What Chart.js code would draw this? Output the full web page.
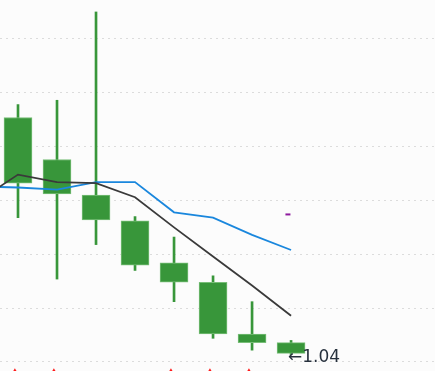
<!DOCTYPE html>
<html>
<head>
<meta charset="utf-8">
<script src="https://cdn.jsdelivr.net/npm/chart.js@4"></script>
<style>
  body { margin: 0; background: #fcfcfc; }
  canvas { display: block; }
</style>
</head>
<body>
<canvas id="myChart" width="435" height="371"></canvas>
<script>
// candle data (one per bar, index 0..7)
const bars = [0, 1, 2, 3, 4, 5, 6, 7];
const opens = [3.27, 2.88, 2.55, 2.31, 1.92, 1.74, 1.26, 1.18];
const highs = [3.39, 3.43, 4.25, 2.35, 2.16, 1.80, 1.56, 1.20];
const lows = [2.34, 1.77, 2.09, 1.85, 1.56, 1.22, 1.11, 1.07];
const closes = [2.66, 2.56, 2.32, 1.90, 1.74, 1.26, 1.18, 1.08];

// moving averages, starting one bar before the first visible candle
const maBars = [-1, 0, 1, 2, 3, 4, 5, 6, 7];
const maBlack = [2.50, 2.74, 2.67, 2.66, 2.53, 2.25, 1.98, 1.71, 1.43];
const maBlue = [2.63, 2.62, 2.60, 2.67, 2.67, 2.39, 2.34, 2.18, 2.04];

// markers
const signalBars = [0, 1, 4, 5, 6];
const signalValue = 0.905;
const stopBar = 6.92;
const stopValue = 2.37;
const lastPrice = 1.04;

const gridValues = [1, 1.5, 2, 2.5, 3, 3.5, 4];

const priceLabel = {
  id: 'priceLabel',
  afterDatasetsDraw(chart) {
    const ctx = chart.ctx;
    const x = chart.scales.x.getPixelForValue(bars[bars.length - 1]) - 3;
    const y = chart.scales.y.getPixelForValue(lastPrice);
    ctx.save();
    ctx.font = '17px "DejaVu Sans", sans-serif';
    ctx.fillStyle = '#27313d';
    ctx.textAlign = 'left';
    ctx.textBaseline = 'middle';
    ctx.fillText('\u2190' + lastPrice.toFixed(2), x, y);
    ctx.restore();
  }
};

var ctx = document.getElementById('myChart').getContext('2d');

var myChart = new Chart(ctx, {
  type: 'bar',
  data: {
    datasets: [
      {
        type: 'line',
        data: maBars.map((b, i) => ({ x: b, y: maBlack[i] })),
        borderColor: '#3a3a3a',
        borderWidth: 1.8,
        pointRadius: 0,
        tension: 0,
        order: 0
      },
      {
        type: 'line',
        data: maBars.map((b, i) => ({ x: b, y: maBlue[i] })),
        borderColor: '#1a87dd',
        borderWidth: 1.8,
        pointRadius: 0,
        tension: 0,
        order: 0
      },
      {
        type: 'scatter',
        data: [{ x: stopBar, y: stopValue }],
        pointStyle: 'line',
        pointRadius: 2.5,
        borderColor: '#8e1a9e',
        borderWidth: 2,
        order: 0
      },
      {
        type: 'scatter',
        data: signalBars.map(b => ({ x: b - 0.08, y: signalValue })),
        pointStyle: 'triangle',
        pointRadius: 4,
        backgroundColor: '#ff1a1a',
        borderColor: '#ff1a1a',
        borderWidth: 0,
        clip: false,
        order: 0
      },
      {
        data: bars.map((b, i) => ({ x: b, y: [opens[i], closes[i]] })),
        backgroundColor: 'rgb(56,150,58)',
        borderColor: 'rgb(120,190,120)',
        borderWidth: 1,
        borderSkipped: false,
        barThickness: 28,
        grouped: false,
        order: 1
      },
      {
        data: bars.map((b, i) => ({ x: b, y: [lows[i], highs[i]] })),
        backgroundColor: 'rgb(56,150,58)',
        borderWidth: 0,
        barThickness: 2,
        grouped: false,
        order: 2
      }
    ]
  },
  options: {
    responsive: false,
    animation: false,
    layout: { padding: 0, autoPadding: false },
    plugins: {
      legend: { display: false },
      tooltip: { enabled: false }
    },
    scales: {
      x: {
        type: 'linear',
        display: false,
        offset: false,
        min: -0.4615,
        max: 10.69
      },
      y: {
        min: 0.9164,
        max: 4.361,
        afterBuildTicks: axis => { axis.ticks = gridValues.map(v => ({ value: v })); },
        afterFit: axis => { axis.width = 0; },
        ticks: { display: false },
        border: { display: false, dash: [2, 4] },
        grid: { color: '#dcdcdc', lineWidth: 1, drawTicks: false }
      }
    }
  },
  plugins: [priceLabel]
});
</script>
</body>
</html>
